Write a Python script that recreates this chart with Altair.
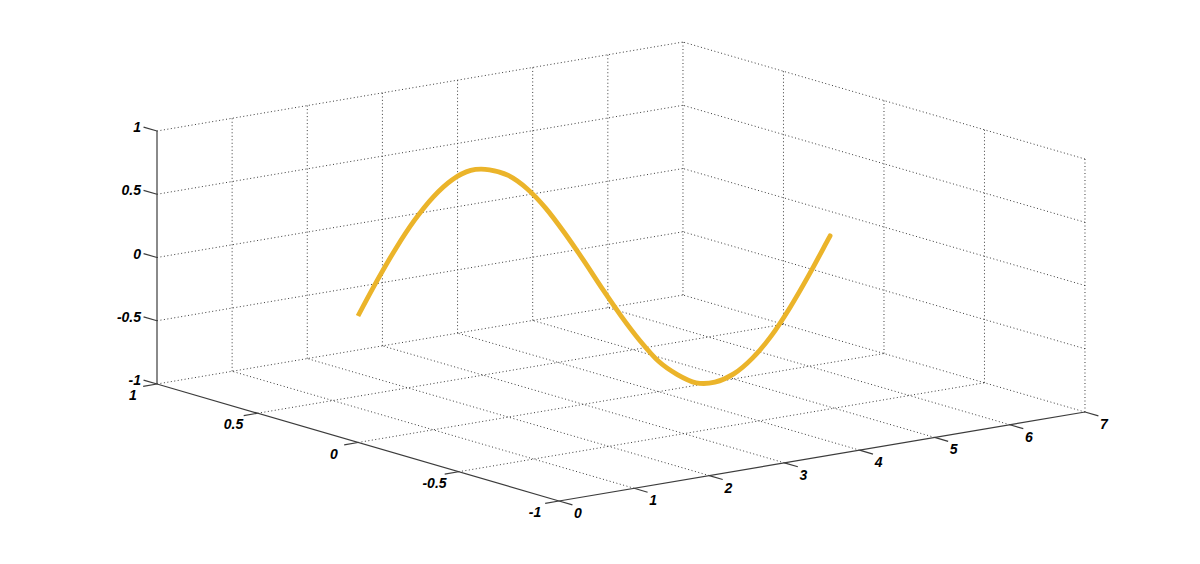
import altair as alt
import pandas as pd

# ---- data ----
x_ticks = [0, 1, 2, 3, 4, 5, 6, 7]
y_ticks = [-1, -0.5, 0, 0.5, 1]
z_ticks = [-1, -0.5, 0, 0.5, 1]
x_labels = ["0", "1", "2", "3", "4", "5", "6", "7"]
y_labels = ["-1", "-0.5", "0", "0.5", "1"]
z_labels = ["-1", "-0.5", "0", "0.5", "1"]

curve_x = [0.0, 0.25, 0.5, 0.75, 1.0, 1.25, 1.5, 1.75, 2.0, 2.25, 2.5, 2.75, 3.0,
           3.25, 3.5, 3.75, 4.0, 4.25, 4.5, 4.75, 5.0, 5.25, 5.5, 5.75, 6.0, 6.25, 6.28]
curve_z = [0.0, 0.25, 0.48, 0.68, 0.84, 0.95, 1.0, 0.98, 0.91, 0.78, 0.6, 0.38, 0.14,
           -0.11, -0.35, -0.57, -0.76, -0.89, -0.98, -1.0, -0.96, -0.86, -0.71, -0.51, -0.28, -0.03, 0.0]
curve_depth = 0.0

# ---- 3D view projection (screen pixels) ----
ORIGIN = (559.0, 501.0)      # (x=0, y=-1, z=-1)
EX = (75.14, -12.71)         # per unit x
EY = (-201.0, -58.5)         # per unit y
EZ = (0.0, -126.5)           # per unit z
XMIN, XMAX, YMIN, YMAX, ZMIN, ZMAX = 0, 7, -1, 1, -1, 1


def proj(x, y, z):
    u = ORIGIN[0] + EX[0] * (x - XMIN) + EY[0] * (y - YMIN) + EZ[0] * (z - ZMIN)
    v = ORIGIN[1] + EX[1] * (x - XMIN) + EY[1] * (y - YMIN) + EZ[1] * (z - ZMIN)
    return u, v


def seg(p, q):
    u, v = proj(*p)
    u2, v2 = proj(*q)
    return {"u": u, "v": v, "u2": u2, "v2": v2}


def unit(d):
    n = (d[0] ** 2 + d[1] ** 2) ** 0.5
    return (d[0] / n, d[1] / n)


# grid (dotted)
grid = []
for x in x_ticks[1:]:
    grid.append(seg((x, YMIN, ZMIN), (x, YMAX, ZMIN)))      # floor
    grid.append(seg((x, YMAX, ZMIN), (x, YMAX, ZMAX)))      # back wall
for y in y_ticks[1:]:
    grid.append(seg((XMIN, y, ZMIN), (XMAX, y, ZMIN)))      # floor
for y in y_ticks[:-1]:
    grid.append(seg((XMAX, y, ZMIN), (XMAX, y, ZMAX)))      # right wall
for z in z_ticks[1:]:
    grid.append(seg((XMIN, YMAX, z), (XMAX, YMAX, z)))      # back wall
    grid.append(seg((XMAX, YMIN, z), (XMAX, YMAX, z)))      # right wall
grid_df = pd.DataFrame(grid)

# axes (solid)
axes_df = pd.DataFrame([
    seg((XMIN, YMAX, ZMIN), (XMIN, YMAX, ZMAX)),
    seg((XMIN, YMAX, ZMIN), (XMIN, YMIN, ZMIN)),
    seg((XMIN, YMIN, ZMIN), (XMAX, YMIN, ZMIN)),
])

# ticks and labels
TL = 14.0
dy_out = unit(EY)                     # z ticks go along +y
dx_out = unit((-EX[0], -EX[1]))       # y ticks go along -x
dyn_out = unit((-EY[0], -EY[1]))      # x ticks go along -y
ticks = []
labels = []
for z, lab in zip(z_ticks, z_labels):
    u, v = proj(XMIN, YMAX, z)
    ticks.append({"u": u, "v": v, "u2": u + dy_out[0] * TL, "v2": v + dy_out[1] * TL})
    labels.append({"u": u - 16, "v": v - 3, "t": lab, "a": "right"})
for y, lab in zip(y_ticks, y_labels):
    u, v = proj(XMIN, y, ZMIN)
    ticks.append({"u": u, "v": v, "u2": u + dx_out[0] * TL, "v2": v + dx_out[1] * TL})
    labels.append({"u": u - 24, "v": v + 12, "t": lab, "a": "center"})
for x, lab in zip(x_ticks, x_labels):
    u, v = proj(x, YMIN, ZMIN)
    ticks.append({"u": u, "v": v, "u2": u + dyn_out[0] * TL, "v2": v + dyn_out[1] * TL})
    labels.append({"u": u + 19, "v": v + 13, "t": lab, "a": "center"})
ticks_df = pd.DataFrame(ticks)
labels_df = pd.DataFrame(labels)

curve = []
for i, (x, z) in enumerate(zip(curve_x, curve_z)):
    u, v = proj(x, curve_depth, z)
    curve.append({"u": u, "v": v, "i": i})
curve_df = pd.DataFrame(curve)

W, H = 1184, 540
xs = alt.Scale(domain=[8, 8 + W], nice=False, zero=False)
ys = alt.Scale(domain=[8, 8 + H], nice=False, zero=False, reverse=True)
X = alt.X("u:Q", scale=xs, axis=None)
Y = alt.Y("v:Q", scale=ys, axis=None)

grid_layer = alt.Chart(grid_df).mark_rule(
    color="#3a3a3a", strokeWidth=1, strokeDash=[1, 2.5]
).encode(x=X, y=Y, x2="u2:Q", y2="v2:Q")

axes_layer = alt.Chart(axes_df).mark_rule(color="#3c3c3c", strokeWidth=1.2).encode(
    x=X, y=Y, x2="u2:Q", y2="v2:Q")

ticks_layer = alt.Chart(ticks_df).mark_rule(color="#3c3c3c", strokeWidth=1.2).encode(
    x=X, y=Y, x2="u2:Q", y2="v2:Q")

curve_layer = alt.Chart(curve_df).mark_line(
    color="#EBB42A", strokeWidth=4.8, interpolate="cardinal"
).encode(x=X, y=Y, order="i:Q")

text_kw = dict(font="Liberation Sans", fontSize=14, fontStyle="italic",
               fontWeight="bold", color="black", baseline="middle")
lab_right = alt.Chart(labels_df[labels_df.a == "right"]).mark_text(align="right", **text_kw).encode(
    x=X, y=Y, text="t:N")
lab_center = alt.Chart(labels_df[labels_df.a == "center"]).mark_text(align="center", **text_kw).encode(
    x=X, y=Y, text="t:N")

chart = alt.layer(grid_layer, axes_layer, ticks_layer, curve_layer, lab_right, lab_center).properties(
    width=W, height=H, autosize=alt.AutoSizeParams(type="none"), padding=0
).configure_view(stroke=None)

chart.save("out.html", embed_options={"renderer": "svg", "actions": False})
